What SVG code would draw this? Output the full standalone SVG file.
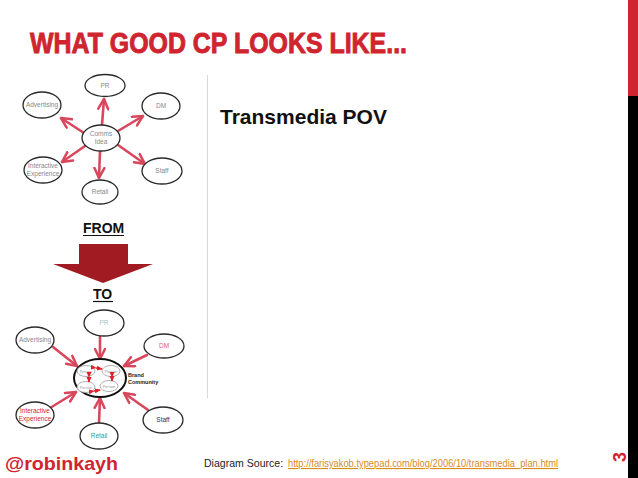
<svg xmlns="http://www.w3.org/2000/svg" width="638" height="478" viewBox="0 0 638 478">
<defs>
<style>
.title{font-family:"Liberation Sans",Arial,sans-serif;font-weight:bold;fill:#d0242f}
.h{font-family:"Liberation Sans",Arial,sans-serif;font-weight:bold;fill:#111}
.n{fill:#fff;stroke:#2a2a2a;stroke-width:1.3}
.t{font-family:"Liberation Sans",Arial,sans-serif;font-size:6.5px;fill:#888;text-anchor:middle}
.a{stroke:#d9475c;stroke-width:2.6;fill:none;stroke-linecap:round}
.s{font-family:"Liberation Sans",Arial,sans-serif;font-size:11px;fill:#222}
</style>
<marker id="v" viewBox="0 0 10 10" refX="9" refY="5" markerWidth="4.8" markerHeight="4.8" orient="auto">
<path d="M1,1 L9,5 L1,9" fill="none" stroke="#d9475c" stroke-width="2" stroke-linecap="round" stroke-linejoin="round"/>
</marker>
<marker id="vs" viewBox="0 0 10 10" refX="8" refY="5" markerWidth="4" markerHeight="4" orient="auto">
<path d="M0,1 L9,5 L0,9 Z" fill="#e0202a"/>
</marker>
</defs>
<rect width="638" height="478" fill="#fff"/>
<rect x="628" y="0" width="10" height="96" fill="#d0242f"/>
<rect x="628" y="96" width="10" height="382" fill="#000"/>
<text class="title" x="30" y="53" font-size="29" stroke="#d0242f" stroke-width="0.9" textLength="377" lengthAdjust="spacingAndGlyphs">WHAT GOOD CP LOOKS LIKE...</text>
<line x1="207.5" y1="75" x2="207.5" y2="398" stroke="#d8d8d8" stroke-width="1"/>
<text class="h" x="220" y="124" font-size="21">Transmedia POV</text>

<g id="from-diagram">
<g id="connectors-top">
<line class="a" x1="102" y1="125" x2="104" y2="99" marker-end="url(#v)"/>
<line class="a" x1="84" y1="133" x2="61" y2="118" marker-end="url(#v)"/>
<line class="a" x1="118" y1="131" x2="143" y2="116" marker-end="url(#v)"/>
<line class="a" x1="85" y1="146" x2="62" y2="162" marker-end="url(#v)"/>
<line class="a" x1="118" y1="145" x2="145" y2="164" marker-end="url(#v)"/>
<line class="a" x1="100" y1="151" x2="99" y2="178" marker-end="url(#v)"/>
</g>
<g id="t-pr"><ellipse class="n" cx="105" cy="85.5" rx="20" ry="11"/><text class="t" x="105" y="88">PR</text></g>
<g id="t-adv"><ellipse class="n" cx="42" cy="105" rx="19" ry="13"/><text class="t" x="42" y="107">Advertising</text></g>
<g id="t-dm"><ellipse class="n" cx="161" cy="106" rx="19" ry="13"/><text class="t" x="161" y="108">DM</text></g>
<g id="t-core"><ellipse class="n" cx="101" cy="138" rx="19" ry="13"/><text class="t" x="101" y="136">Comms</text><text class="t" x="101" y="144">Idea</text></g>
<g id="t-ie"><ellipse class="n" cx="43" cy="170" rx="19" ry="13"/><text class="t" x="43" y="168">Interactive</text><text class="t" x="43" y="176">Experience</text></g>
<g id="t-staff"><ellipse class="n" cx="162" cy="171" rx="20" ry="13"/><text class="t" x="162" y="173">Staff</text></g>
<g id="t-retail"><ellipse class="n" cx="100" cy="192" rx="18" ry="12"/><text class="t" x="100" y="194">Retail</text></g>
</g>

<g id="from-label"><text class="h" x="83" y="233" font-size="14">FROM</text><line x1="83" y1="235.5" x2="124" y2="235.5" stroke="#111" stroke-width="1.2"/></g>
<g id="big-arrow"><path d="M79,244 H128 V264 H153 L103,283 L53,264 H79 Z" fill="#a01c22"/></g>
<g id="to-label"><text class="h" x="93" y="299" font-size="14">TO</text><line x1="93" y1="301.5" x2="113" y2="301.5" stroke="#111" stroke-width="1.2"/></g>

<g id="to-diagram">
<g id="connectors-bottom">
<line class="a" x1="100" y1="337" x2="100" y2="359" marker-end="url(#v)"/>
<line class="a" x1="53" y1="347" x2="77" y2="366" marker-end="url(#v)"/>
<line class="a" x1="147" y1="355" x2="124" y2="366" marker-end="url(#v)"/>
<line class="a" x1="50" y1="408" x2="76" y2="392" marker-end="url(#v)"/>
<line class="a" x1="148" y1="410" x2="124" y2="393" marker-end="url(#v)"/>
<line class="a" x1="99" y1="423" x2="100" y2="398" marker-end="url(#v)"/>
</g>
<g id="b-pr"><ellipse class="n" cx="104" cy="323" rx="20" ry="13"/><text class="t" x="104" y="325" style="fill:#a9c9c9">PR</text></g>
<g id="b-adv"><ellipse class="n" cx="35" cy="340" rx="19" ry="13"/><text class="t" x="35" y="342">Advertising</text></g>
<g id="b-dm"><ellipse class="n" cx="164" cy="346" rx="20" ry="12"/><text class="t" x="164" y="348" style="fill:#e0587a">DM</text></g>
<g id="b-community">
<ellipse cx="100" cy="378" rx="26" ry="19" fill="#fff" stroke="#111" stroke-width="2"/>
<ellipse cx="86" cy="371" rx="9" ry="5.5" fill="#fff" stroke="#999" stroke-width="0.8"/>
<ellipse cx="111" cy="371" rx="9" ry="5.5" fill="#fff" stroke="#999" stroke-width="0.8"/>
<ellipse cx="86" cy="387" rx="9" ry="5.5" fill="#fff" stroke="#999" stroke-width="0.8"/>
<ellipse cx="109" cy="386" rx="9" ry="5.5" fill="#fff" stroke="#999" stroke-width="0.8"/>
<g style="font-family:'Liberation Sans',Arial,sans-serif;font-size:4px;fill:#999;text-anchor:middle">
<text x="86" y="372.5">Person</text><text x="111" y="372.5">Person</text><text x="86" y="388.5">Person</text><text x="109" y="387.5">Person</text>
</g>
<g stroke="#e0202a" stroke-width="1.6" fill="none">
<line x1="96" y1="368" x2="102" y2="369" marker-end="url(#vs)" marker-start="url(#vs)"/>
<line x1="89" y1="377" x2="89" y2="382" marker-end="url(#vs)" marker-start="url(#vs)"/>
<line x1="112" y1="377" x2="112" y2="381" marker-end="url(#vs)" marker-start="url(#vs)"/>
<line x1="94" y1="391" x2="100" y2="390" marker-end="url(#vs)" marker-start="url(#vs)"/>
</g>
<text x="128" y="377" style="font-family:'Liberation Sans',Arial,sans-serif;font-size:5.5px;font-weight:bold;fill:#222">Brand</text>
<text x="128" y="384" style="font-family:'Liberation Sans',Arial,sans-serif;font-size:5.5px;font-weight:bold;fill:#222">Community</text>
</g>
<g id="b-ie"><ellipse class="n" cx="35" cy="415" rx="19" ry="13"/><text class="t" x="35" y="413" style="fill:#d9252f">Interactive</text><text class="t" x="35" y="421" style="fill:#d9252f">Experience</text></g>
<g id="b-staff"><ellipse class="n" cx="163" cy="420" rx="20" ry="13"/><text class="t" x="163" y="422" style="fill:#2a2a7a">Staff</text></g>
<g id="b-retail"><ellipse class="n" cx="99" cy="436" rx="19" ry="13"/><text class="t" x="99" y="438" style="fill:#2a9fa0">Retail</text></g>
</g>

<text x="5" y="470" font-size="19" class="title" textLength="113" lengthAdjust="spacingAndGlyphs">@robinkayh</text>
<text class="s" x="204" y="467"><tspan textLength="82" lengthAdjust="spacingAndGlyphs">Diagram Source: </tspan><tspan x="288" fill="#d98b1c" text-decoration="underline" textLength="270" lengthAdjust="spacingAndGlyphs">http://farisyakob.typepad.com/blog/2006/10/transmedia_plan.html</tspan></text>
<text transform="translate(626,462) rotate(-90)" font-size="18" class="title">3</text>
</svg>
